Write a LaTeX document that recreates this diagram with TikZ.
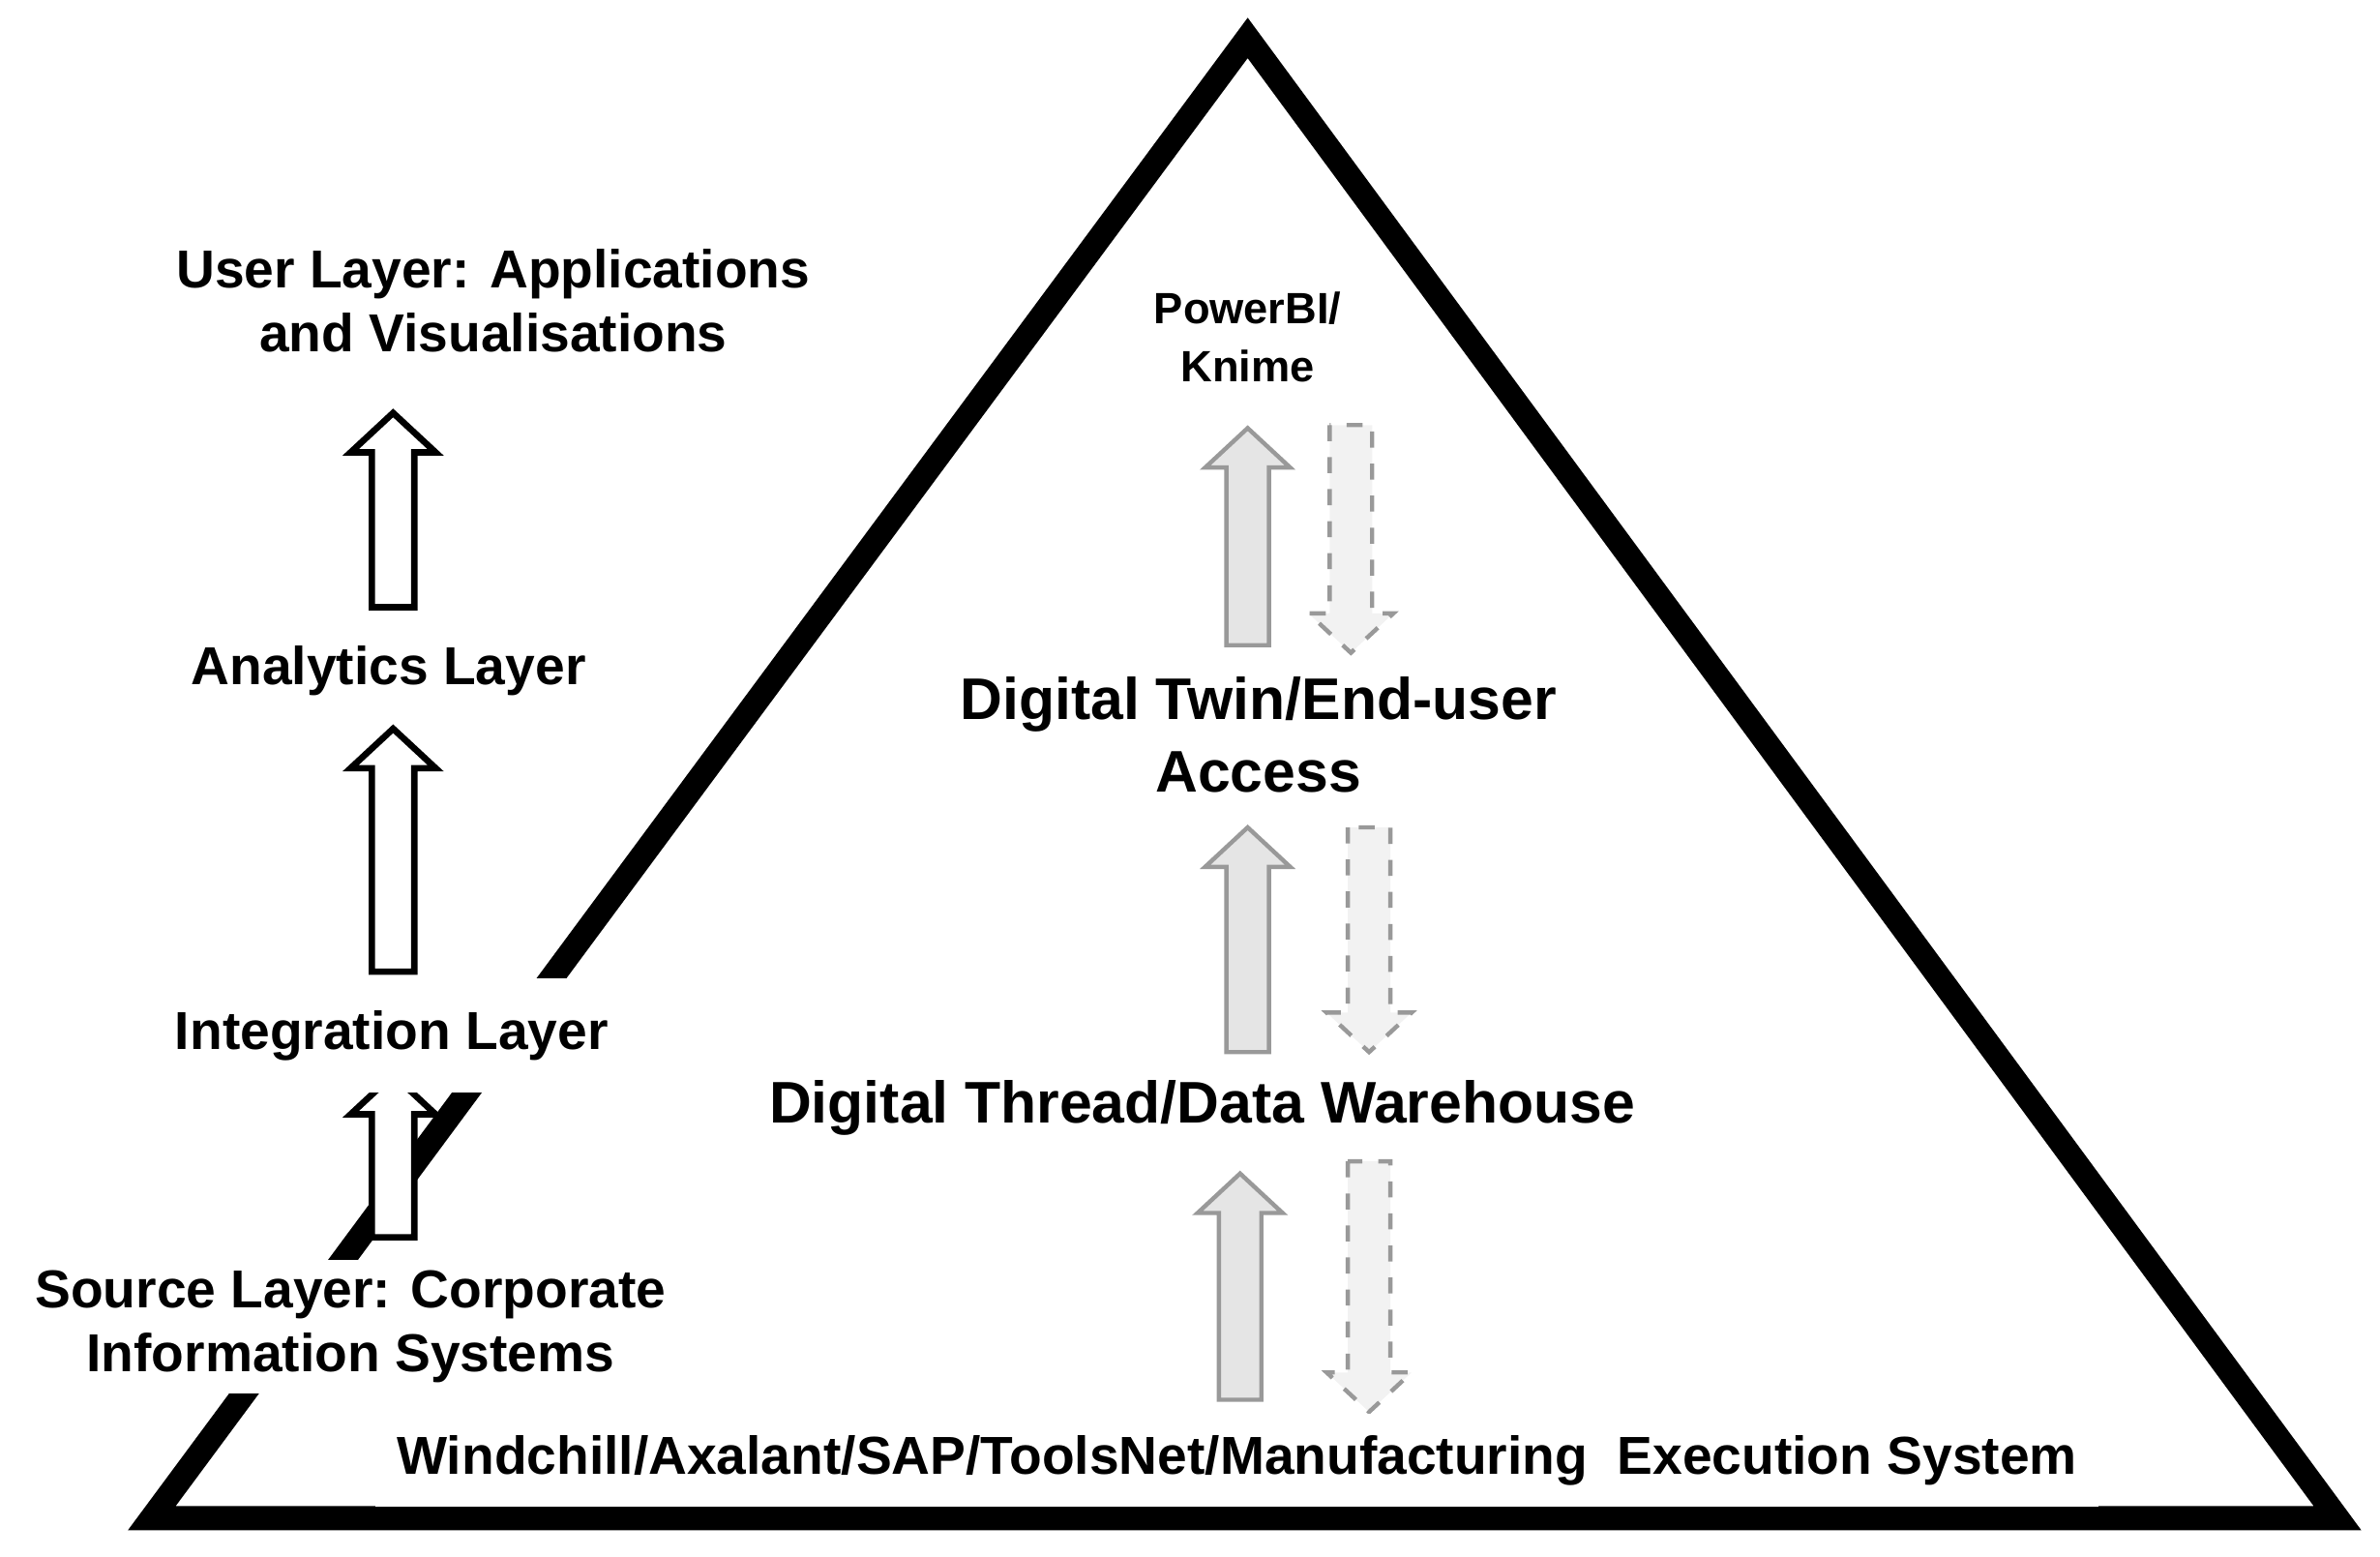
\documentclass[tikz,border=0pt]{standalone}
\usepackage{fontspec}
\setmainfont{Liberation Sans}
\begin{document}
\begin{tikzpicture}[x=0.01cm,y=-0.01cm,
  lbl/.style={font=\bfseries\fontsize{10}{12}\selectfont,align=center,fill=white,inner sep=2pt},
  big/.style={font=\bfseries\fontsize{11}{13.5}\selectfont,align=center},
  wa/.style={draw=black,fill=white,line width=1.2pt},
  ga/.style={draw=gray!80,fill=gray!20,line width=0.8pt},
  gd/.style={draw=gray!80,fill=gray!10,line width=0.8pt,dashed}]
\useasboundingbox (0,0) rectangle (1568,1025);
\newcommand\uarr[4]{\path[#4] (#1-14,#2) -- (#1-14,#3+26) -- (#1-28,#3+26) -- (#1,#3) -- (#1+28,#3+26) -- (#1+14,#3+26) -- (#1+14,#2) -- cycle;}
\newcommand\darr[4]{\path[#4] (#1-14,#2) -- (#1-14,#3-26) -- (#1-28,#3-26) -- (#1,#3) -- (#1+28,#3-26) -- (#1+14,#3-26) -- (#1+14,#2) -- cycle;}
\draw[line width=4.5pt,line join=miter] (822,25) -- (1540,1000) -- (100,1000) -- cycle;
% left column arrows
\uarr{259}{400}{272}{wa}
\uarr{259}{640}{480}{wa}
\uarr{259}{815}{708}{wa}
% gray arrows
\uarr{822}{425}{282}{ga}
\uarr{822}{693}{545}{ga}
\uarr{817}{922}{773}{ga}
\darr{890}{280}{430}{gd}
\darr{902}{545}{693}{gd}
\darr{902}{765}{930}{gd}
% labels
\node[lbl] (user) at (325,198) {User Layer: Applications\\and Visualisations};
\node[lbl] (ana) at (256,442) {Analytics Layer};
\node[lbl,inner sep=6pt] (int) at (258,682) {Integration Layer};
\node[lbl] (src) at (231,874) {Source Layer: Corporate\\Information Systems};
\node[font=\bfseries\fontsize{8.2}{11}\selectfont,align=center] (pbi) at (822,222) {PowerBI/\\Knime};
\node[big] (dt) at (829,484) {Digital Twin/End-user\\Access};
\node[big] (dw) at (792,730) {Digital Thread/Data Warehouse};
\node[lbl,inner sep=4pt] (sys) at (815,962) {Windchill/Axalant/SAP/ToolsNet/Manufacturing\ \ Execution System};
\end{tikzpicture}
\end{document}
